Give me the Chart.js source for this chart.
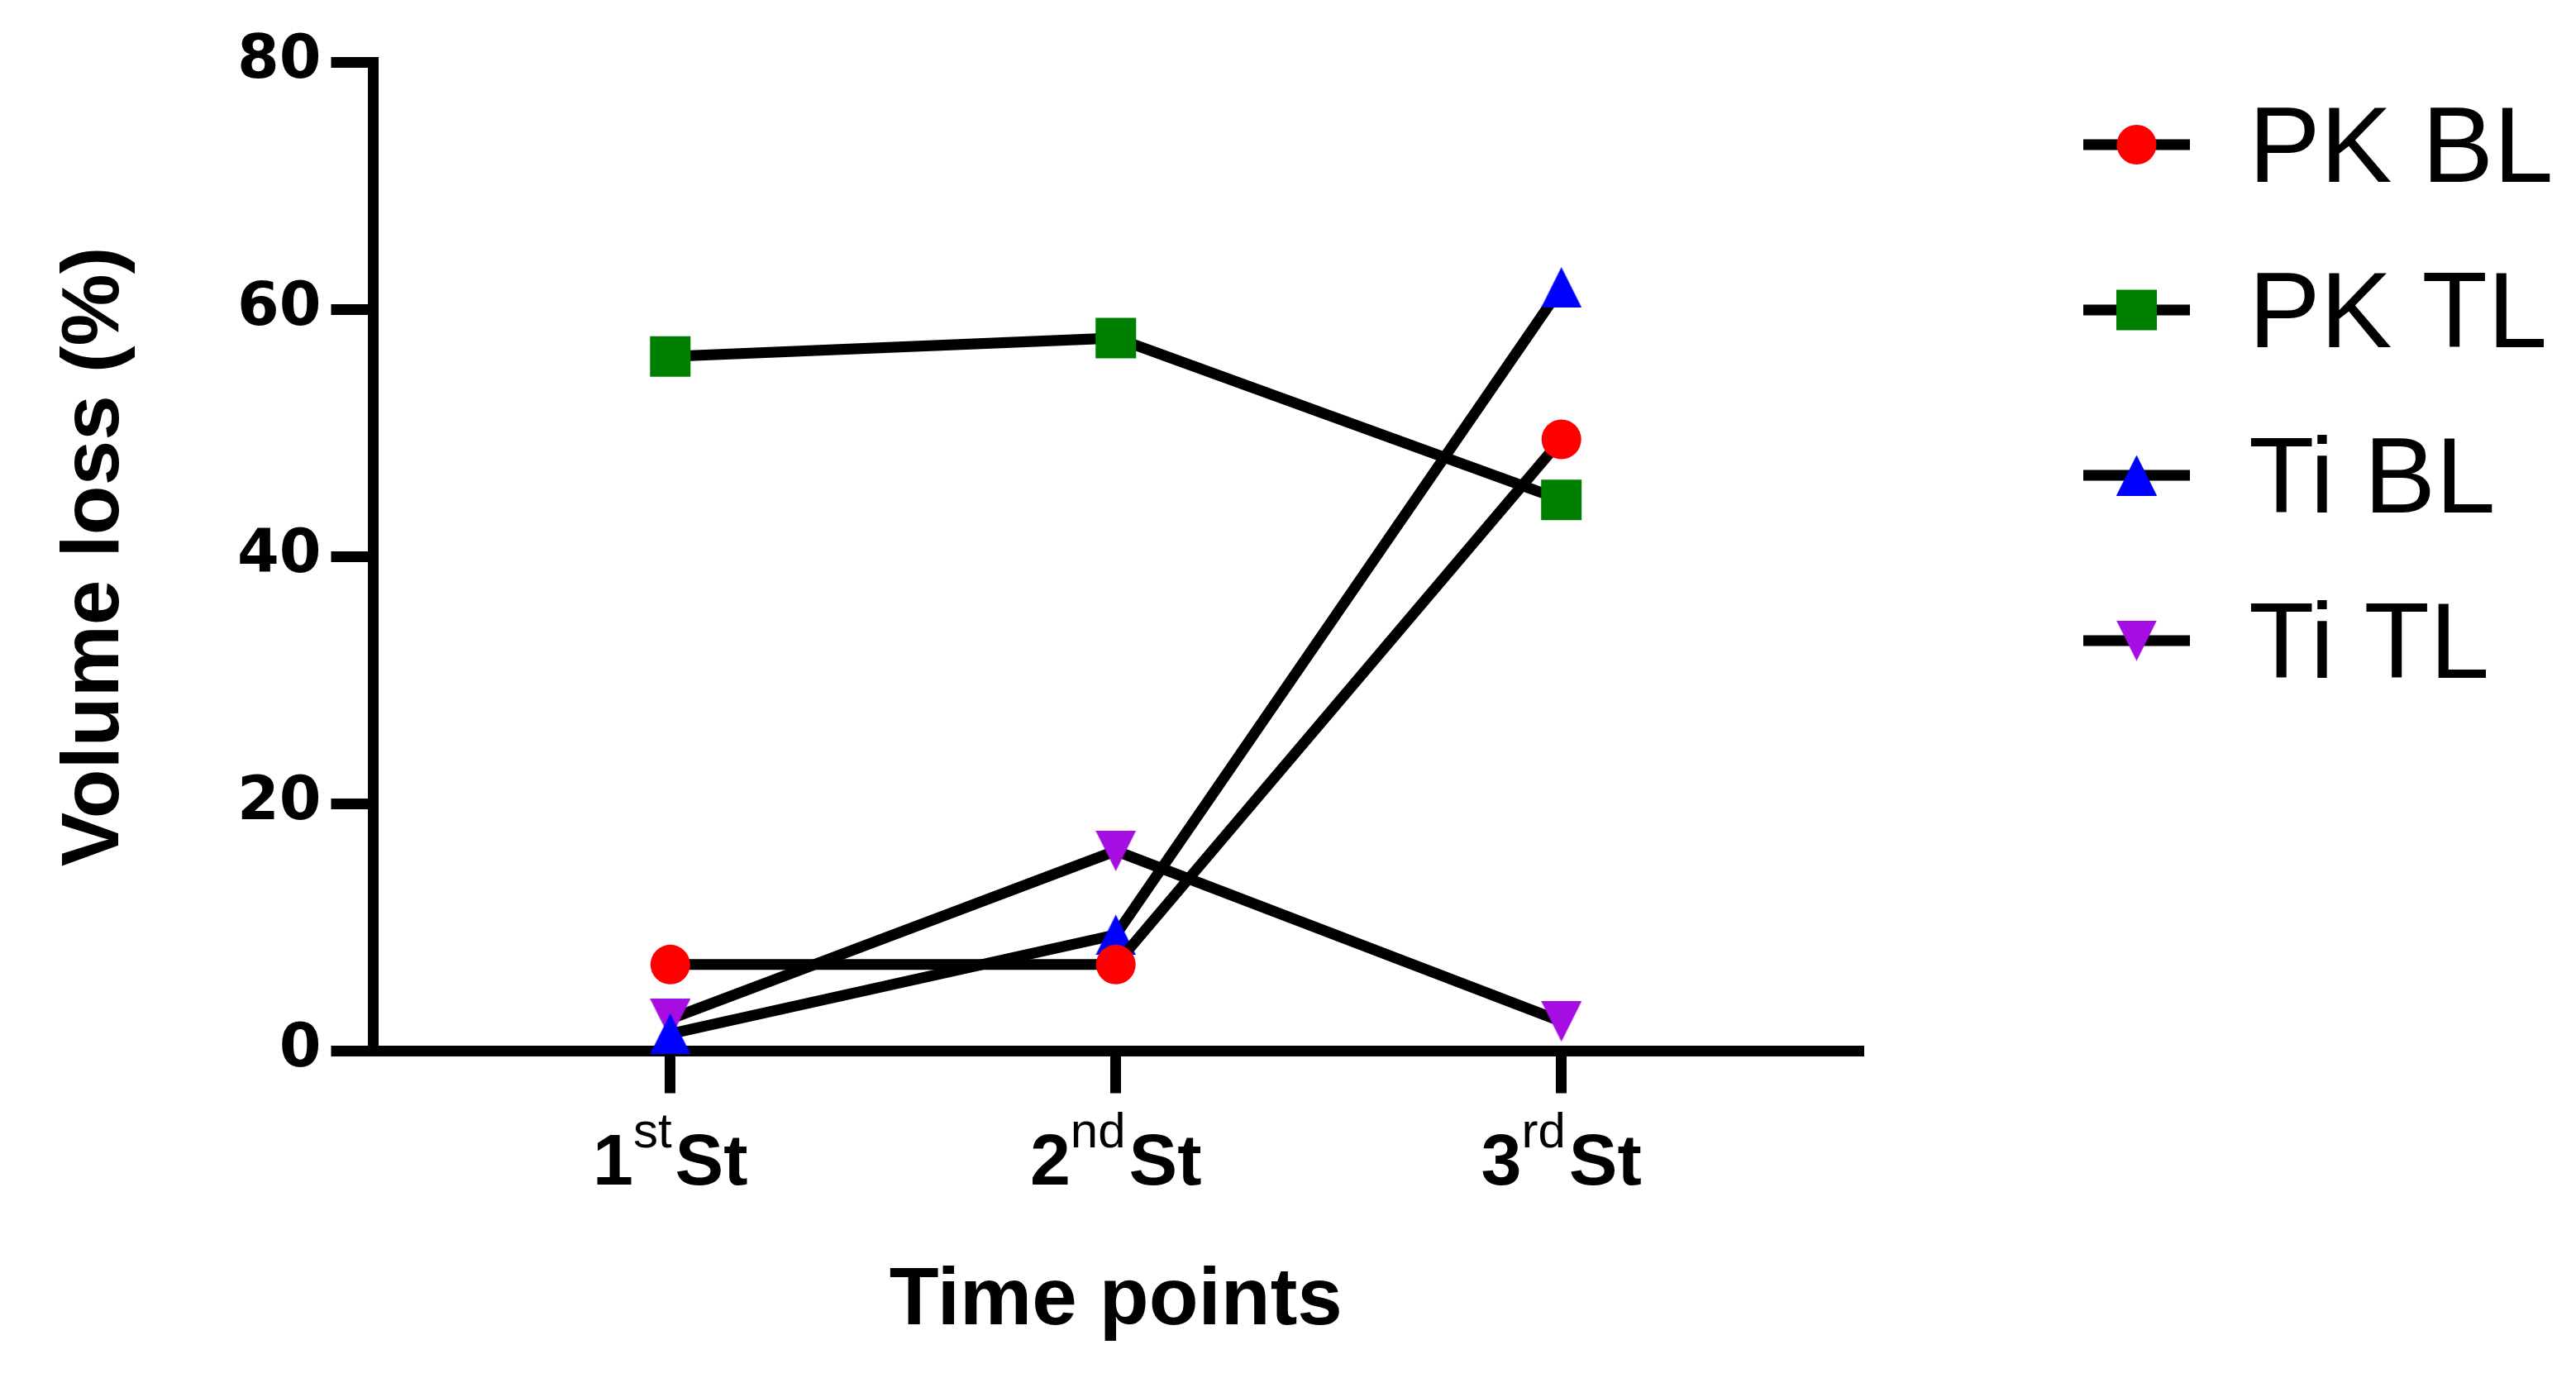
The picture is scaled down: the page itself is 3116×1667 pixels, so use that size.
<!DOCTYPE html>
<html>
<head>
<meta charset="utf-8">
<title>Volume loss</title>
<script src="https://cdn.jsdelivr.net/npm/chart.js@4"></script>
<style>
  html, body { margin: 0; padding: 0; background: #fff; overflow: hidden; }
  #wrap { width: 3116px; height: 1667px; }
</style>
</head>
<body>
<div id="wrap"><canvas id="lineChart" width="3116" height="1667"></canvas></div>
<script>
// x axis: stage numbers + superscript suffix, drawn as "1stSt" etc.
const stages = ['1', '2', '3'];
const stageSuffix = ['st', 'nd', 'rd'];
const yTicks = [0, 20, 40, 60, 80];

// volume loss (%) per stage
const pkBL = [7.0, 7.0, 49.5];
const pkTL = [56.2, 57.7, 44.6];
const tiBL = [1.4, 9.4, 61.8];
const tiTL = [2.6, 16.2, 2.4];

const seriesNames = ['PK BL', 'PK TL', 'Ti BL', 'Ti TL'];
const seriesColors = ['#FF0000', '#008000', '#0000FF', '#A50DE0'];

const FONT = '"Liberation Sans", Arial, sans-serif';
Chart.defaults.font.family = FONT;
Chart.defaults.color = '#000';

// prism-style triangles (as tall as they are wide)
function triangleMarker(color, pointUp) {
    const c = document.createElement('canvas');
    c.width = 49; c.height = 49;
    const g = c.getContext('2d');
    g.fillStyle = color;
    g.beginPath();
    if (pointUp) { g.moveTo(24.5, 0); g.lineTo(49, 49); g.lineTo(0, 49); }
    else { g.moveTo(0, 0); g.lineTo(49, 0); g.lineTo(24.5, 49); }
    g.closePath();
    g.fill();
    return c;
}

const markers = ['circle', 'rect', triangleMarker(seriesColors[2], true), triangleMarker(seriesColors[3], false)];
const radii = [24, 34.65, 24.5, 24.5];
const allSeries = [pkBL, pkTL, tiBL, tiTL];

function drawMarker(ctx, k, x, y) {
    const st = markers[k];
    ctx.fillStyle = seriesColors[k];
    if (st === 'circle') {
        ctx.beginPath(); ctx.arc(x, y, radii[k], 0, Math.PI * 2); ctx.fill();
    } else if (st === 'rect') {
        const h = radii[k] * Math.SQRT1_2;
        ctx.fillRect(x - h, y - h, 2 * h, 2 * h);
    } else {
        ctx.drawImage(st, x - st.width / 2, y - st.height / 2);
    }
}

// superscript stage labels under the x axis
const stageLabels = {
    id: 'stageLabels',
    afterDraw(chart) {
        const ctx = chart.ctx;
        const xs = chart.scales.x;
        const base = xs.top + 161.5;
        ctx.save();
        ctx.fillStyle = '#000';
        ctx.textBaseline = 'alphabetic';
        ctx.textAlign = 'left';
        stages.forEach((num, i) => {
            const cx = xs.getPixelForValue(i);
            ctx.font = 'bold 88px ' + FONT;
            const w1 = ctx.measureText(num).width;
            const w3 = ctx.measureText('St').width;
            ctx.font = '60px ' + FONT;
            const w2 = ctx.measureText(stageSuffix[i]).width;
            let x = cx - (w1 + w2 + w3 + 4) / 2;
            ctx.font = 'bold 88px ' + FONT;
            ctx.fillText(num, x, base);
            x += w1;
            ctx.font = '60px ' + FONT;
            ctx.fillText(stageSuffix[i], x, base - 45);
            x += w2 + 4;
            ctx.font = 'bold 88px ' + FONT;
            ctx.fillText('St', x, base);
        });
        ctx.restore();
    }
};

// legend: line sample with marker in the middle, text on the right
const sideLegend = {
    id: 'sideLegend',
    afterDraw(chart) {
        const ctx = chart.ctx;
        const area = chart.chartArea;
        const x0 = area.right + 272;
        ctx.save();
        chart.data.datasets.forEach((ds, k) => {
            const y = area.top + 99.5 + 200 * k;
            ctx.strokeStyle = '#000';
            ctx.lineWidth = 13;
            ctx.beginPath(); ctx.moveTo(x0, y); ctx.lineTo(x0 + 129, y); ctx.stroke();
            drawMarker(ctx, k, x0 + 64.5, y);
            ctx.fillStyle = '#000';
            ctx.font = '130px ' + FONT;
            ctx.textBaseline = 'alphabetic';
            ctx.fillText(ds.label, x0 + 200, y + 45);
        });
        ctx.restore();
    }
};

const axisGrid = { display: true, drawOnChartArea: false, drawTicks: true, tickLength: 51, lineWidth: 13, color: '#000' };
const axisBorder = { display: true, width: 13, color: '#000' };

new Chart(document.getElementById('lineChart').getContext('2d'), {
    type: 'line',
    data: {
        datasets: allSeries.map((vals, k) => ({
            label: seriesNames[k],
            data: vals.map((v, i) => ({ x: i, y: v })),
            borderColor: '#000',
            borderWidth: 13,
            tension: 0,
            fill: false,
            clip: false,
            pointStyle: markers[k],
            pointRadius: radii[k],
            pointHoverRadius: radii[k],
            pointBackgroundColor: seriesColors[k],
            pointBorderWidth: 0
        }))
    },
    options: {
        responsive: false,
        devicePixelRatio: 1,
        animation: false,
        events: [],
        layout: { padding: { top: 75.5, right: 868, bottom: 0, left: 0 } },
        plugins: { legend: { display: false }, tooltip: { enabled: false } },
        scales: {
            x: {
                type: 'linear',
                min: -2 / 3,
                max: 2 + 2 / 3,
                afterBuildTicks: s => { s.ticks = stages.map((_, i) => ({ value: i })); },
                afterFit: s => { s.height = 395.5; },
                ticks: { display: false },
                grid: axisGrid,
                border: axisBorder,
                title: {
                    display: true, text: 'Time points', color: '#000',
                    font: { size: 98, weight: 'bold' },
                    padding: { top: 0, bottom: 33 }
                }
            },
            y: {
                min: 0,
                max: 80,
                afterBuildTicks: s => { s.ticks = yTicks.map(v => ({ value: v })); },
                afterFit: s => { s.width = 451.5; },
                ticks: { font: { family: '"DejaVu Sans", sans-serif', size: 73, weight: 'bold' }, color: '#000', padding: 12 },
                grid: axisGrid,
                border: axisBorder,
                title: {
                    display: true, text: 'Volume loss (%)', color: '#000',
                    font: { size: 98, weight: 'bold' },
                    padding: { top: 57, bottom: 0 }
                }
            }
        }
    },
    plugins: [stageLabels, sideLegend]
});
</script>
</body>
</html>
